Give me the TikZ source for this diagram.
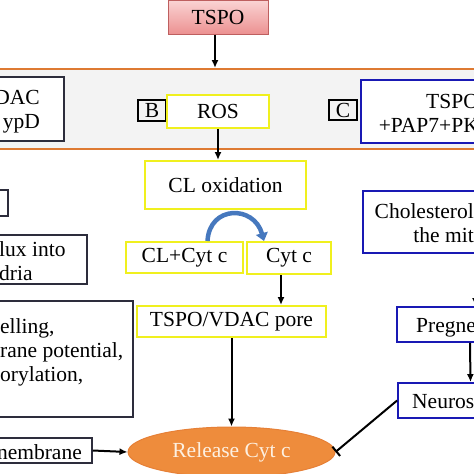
\documentclass[tikz,border=0pt]{standalone}
\usepackage{fontspec}
\setmainfont{Liberation Serif}
\usetikzlibrary{arrows.meta,shapes.geometric}
\definecolor{boxyellow}{RGB}{240,240,30}
\definecolor{boxblue}{RGB}{25,25,180}
\definecolor{boxdark}{RGB}{45,45,60}
\definecolor{bandorange}{RGB}{222,122,50}
\definecolor{bandgray}{RGB}{243,243,243}
\definecolor{curveblue}{RGB}{70,120,190}
\definecolor{relorange}{RGB}{238,140,60}
\definecolor{reltext}{RGB}{253,240,225}
\tikzset{
  ybox/.style={draw=boxyellow, line width=2pt, fill=white, inner sep=0pt},
  bbox/.style={draw=boxblue, line width=1.8pt, fill=white, inner sep=0pt},
  kbox/.style={draw=boxdark, line width=1.5pt, fill=white, inner sep=0pt},
  lbl/.style={inner sep=0pt},
  conn/.style={->, line width=2pt},
}
\begin{document}
\begin{tikzpicture}[>={Latex[length=8pt,width=7pt]}, x=1pt, y=-1pt,
    font=\fontsize{21.5}{24}\selectfont]
    \useasboundingbox (0,0) rectangle (474,474);

    % top and band
    \node[draw={rgb,255:red,190;green,95;blue,95}, line width=1pt,
        top color={rgb,255:red,250;green,212;blue,212},
        bottom color={rgb,255:red,236;green,145;blue,145},
        minimum width=100pt, minimum height=34pt, inner sep=0pt] (tspo) at (218,17) {TSPO};
    \node[draw=bandorange, fill=bandgray, line width=2pt,
        minimum width=500pt, minimum height=80pt] (band) at (237,109) {};
    \draw[conn] ([xshift=-3pt]tspo.south) -- ([xshift=-3pt]tspo.south |- band.north);

    % inside the band
    \node[kbox, minimum width=124pt, minimum height=64pt] (vdac) at (2,109) {};
    \node[lbl, anchor=base east, align=right] (vdactxt) at (40,128) {DAC\\ypD};
    \node[draw, line width=1.5pt, minimum width=28pt, minimum height=21pt, inner sep=0pt] (labB) at (152,110.5) {B};
    \node[ybox, minimum width=102pt, minimum height=33pt] (ros) at (218,111.5) {ROS};
    \node[draw, line width=1.5pt, minimum width=28pt, minimum height=20pt, inner sep=0pt] (labC) at (343,110) {C};
    \node[bbox, minimum width=158pt, minimum height=63pt] (pap) at (440,111.5) {};
    \node[lbl, anchor=base east, align=right] (paptxt) at (479,132) {TSPO\\+PAP7+PK};

    % middle column
    \node[ybox, minimum width=161pt, minimum height=48pt] (cloxid) at (225.5,185) {CL oxidation};
    \draw[conn] (ros.south) -- (ros.south |- cloxid.north);
    \node[ybox, minimum width=117pt, minimum height=31pt] (clcyt) at (184.5,257.5) {CL+Cyt c};
    \node[ybox, minimum width=84pt, minimum height=32pt] (cytc) at (289,258) {Cyt c};
    \draw[line width=4.5pt, draw=curveblue, -{Triangle[width=12pt,length=8pt]}]
        ([xshift=23pt]clcyt.north) .. controls +(2,-36) and +(-10,-36) .. ([xshift=-25pt]cytc.north);
    \node[ybox, minimum width=189pt, minimum height=31pt] (pore) at (231.5,321.5) {TSPO/VDAC pore};
    \draw[conn] ([xshift=-8pt]cytc.south) -- ([xshift=-8pt]cytc.south |- pore.north);

    % left column
    \node[kbox, minimum width=28pt, minimum height=26pt] (labA) at (-6,203) {};
    \node[kbox, minimum width=167pt, minimum height=49pt] (influx) at (3.5,259.5) {};
    \node[lbl, anchor=base west, align=left] (influxtxt) at (-1,280) {lux into\\dria};
    \node[kbox, minimum width=193pt, minimum height=116pt] (swell) at (36.5,359) {};
    \node[lbl, anchor=base west, align=left] (swelltxt) at (0,381)
        {elling,\\rane potential,\\orylation,};
    \node[kbox, minimum width=132pt, minimum height=25pt] (memb) at (26,450.5) {};
    \node[lbl, anchor=base east] (membtxt) at (82,459) {nembrane};

    % right column
    \node[bbox, minimum width=197pt, minimum height=62pt] (chol) at (461.5,222) {};
    \node[lbl, anchor=base east, align=right] (choltxt) at (474,242) {Cholesterol\\the mit};
    \node[bbox, minimum width=123pt, minimum height=35pt] (pregne) at (458.5,324.5) {};
    \node[lbl, anchor=base west] (pregnetxt) at (416,332) {Pregne};
    \node[bbox, minimum width=122pt, minimum height=35pt] (neuros) at (459,400.5) {};
    \node[lbl, anchor=base west] (neurostxt) at (412,408) {Neuros};
    \draw[conn] ([xshift=17pt]pregne.north |- chol.south) -- ([xshift=17pt]pregne.north);
    \draw[conn] ([xshift=11.5pt]pregne.south) -- ([xshift=11.5pt]neuros.north);

    % release
    \node[ellipse, fill=relorange, draw={rgb,255:red,230;green,128;blue,55}, line width=1pt,
        minimum width=207pt, minimum height=50pt, text=reltext] (release) at (231.5,452) {Release Cyt c};
    \draw[conn] (pore.south) -- (release.north);
    \draw[conn] (memb.east) -- (release.west);
    \draw[line width=2pt, -{Bar[width=12pt]}] (neuros.west) -- (release.east);
\end{tikzpicture}
\end{document}
